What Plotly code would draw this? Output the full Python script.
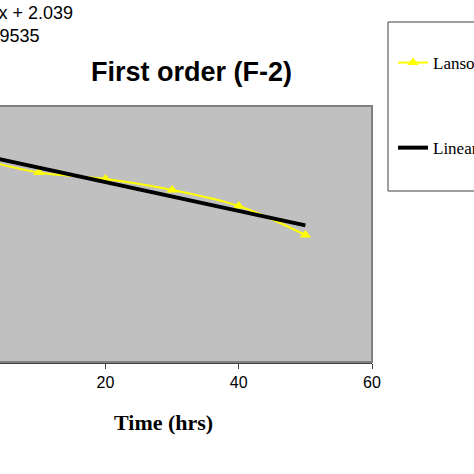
import plotly.graph_objects as go

# Data
time_hrs = [0, 10, 20, 30, 40, 50]
lanso = [2.0, 1.85, 1.787, 1.68, 1.523, 1.24]
slope = -0.0141
intercept = 2.039
r2 = 0.9535
fit_x = [0, 50]
fit_y = [intercept + slope * x for x in fit_x]
x_ticks = [0, 20, 40, 60]

W, H = 474, 474
L, R, T, B = 0, 102, 106, 112
pw, ph = W - L - R, H - T - B

def px(x):
    return (x - L) / pw

def py(y):
    return (H - B - y) / ph

fig = go.Figure()
fig.add_trace(go.Scatter(
    x=time_hrs, y=lanso, mode="lines+markers", name="Lansoprazole",
    line=dict(color="#FFFF00", width=2, shape="spline"),
    marker=dict(symbol="triangle-up", size=10, color="#FFFF00"),
    legendgroup="a"))
fig.add_trace(go.Scatter(
    x=fit_x, y=fit_y, mode="lines", name="Linear (Lansoprazole)",
    line=dict(color="black", width=4), legendgroup="b"))

fig.update_layout(
    width=W, height=H,
    margin=dict(l=L, r=R, t=T, b=B, autoexpand=False),
    paper_bgcolor="white", plot_bgcolor="#C0C0C0",
    font=dict(family="Liberation Sans, Arial", color="black"),
    xaxis=dict(range=[4.165, 60], tickvals=x_ticks, showgrid=False, zeroline=False,
               showline=True, linecolor="#404040", linewidth=2,
               ticks="outside", ticklen=5, tickcolor="#404040", tickwidth=1,
               tickfont=dict(size=16, family="Liberation Sans, Arial")),
    yaxis=dict(range=[0, 2.5], visible=False),
    legend=dict(x=px(393), y=py(45), xanchor="left", yanchor="top",
                bgcolor="rgba(0,0,0,0)", borderwidth=0, tracegroupgap=60,
                font=dict(family="Liberation Serif, Times New Roman", size=17)),
    showlegend=True,
)

# plot area border (top & right), legend box
fig.add_shape(type="rect", xref="paper", yref="paper", x0=-0.2, x1=1, y0=0, y1=1,
              line=dict(color="#808080", width=2))
fig.add_shape(type="rect", xref="paper", yref="paper", x0=px(388), x1=px(490),
              y0=py(191), y1=py(22), line=dict(color="#404040", width=1))

fig.add_annotation(text="<b>First order (F-2)</b>", xref="paper", yref="paper",
                   x=px(191.5), y=py(72), xanchor="center", yanchor="middle",
                   showarrow=False, font=dict(size=27, family="Liberation Sans, Arial"))
fig.add_annotation(text=f"y = {slope}x + {intercept}", xref="paper", yref="paper",
                   x=px(75), y=py(13), xanchor="right", yanchor="middle",
                   showarrow=False, font=dict(size=18, family="Liberation Sans, Arial"))
fig.add_annotation(text=f"R² = {r2}", xref="paper", yref="paper",
                   x=px(42), y=py(36), xanchor="right", yanchor="middle",
                   showarrow=False, font=dict(size=18, family="Liberation Sans, Arial"))
fig.add_annotation(text="<b>Time (hrs)</b>", xref="paper", yref="paper",
                   x=px(163), y=py(422), xanchor="center", yanchor="middle",
                   showarrow=False, font=dict(size=22, family="Liberation Serif, Times New Roman"))

fig.write_html("out.html", config={"displayModeBar": False},
               post_script="document.body.style.margin='0';")
